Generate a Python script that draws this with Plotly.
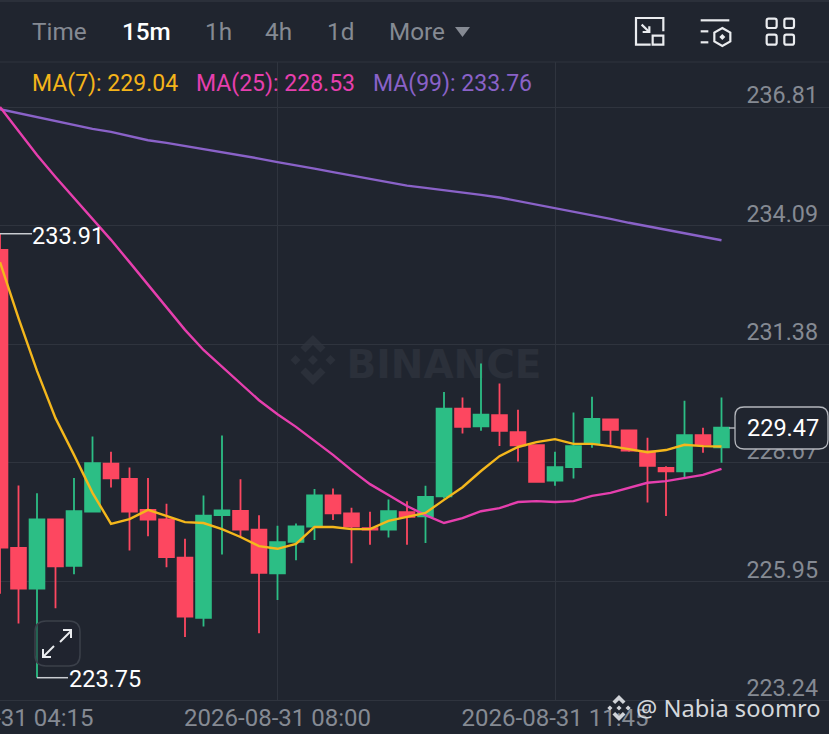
import plotly.graph_objects as go
import pandas as pd

# candles, 15m bars starting 04:15
open_ = [233.54, 226.72, 225.79, 227.37, 226.31, 227.55, 228.65, 228.30, 227.59, 227.37,
         226.50, 225.12, 227.47, 227.57, 227.14, 226.14, 226.86, 227.21, 227.92, 227.51,
         227.17, 227.14, 227.54, 227.44, 227.90, 229.91, 229.50, 229.76, 229.37, 229.07,
         228.26, 228.57, 229.10, 229.66, 229.41, 228.93, 228.55, 228.47, 229.30, 229.02]
high = [233.91, 228.15, 227.97, 227.39, 228.32, 229.27, 228.92, 228.56, 228.32, 227.73,
        226.93, 227.92, 229.29, 228.29, 227.47, 227.23, 227.28, 228.07, 228.08, 227.64,
        227.55, 227.83, 227.79, 228.14, 230.29, 230.16, 230.94, 230.48, 229.88, 229.07,
        228.92, 229.82, 230.18, 229.67, 229.43, 229.24, 228.59, 230.09, 229.47, 230.16]
low = [225.67, 224.99, 223.75, 225.34, 226.12, 227.55, 228.10, 226.66, 226.99, 226.28,
       224.68, 224.92, 226.57, 226.98, 224.77, 225.53, 226.44, 226.90, 227.36, 226.37,
       226.79, 226.96, 226.79, 226.83, 227.85, 229.34, 229.40, 229.05, 228.70, 228.23,
       228.14, 228.31, 229.01, 229.08, 228.92, 227.76, 227.45, 228.34, 228.90, 228.67]
close = [226.73, 225.79, 227.37, 226.30, 227.56, 228.66, 228.31, 227.55, 227.37, 226.51,
         225.15, 227.46, 227.58, 227.14, 226.15, 226.85, 227.21, 227.92, 227.51, 227.21,
         227.14, 227.56, 227.43, 227.89, 229.91, 229.49, 229.77, 229.40, 229.07, 228.23,
         228.57, 229.05, 229.67, 229.42, 228.95, 228.60, 228.47, 229.30, 229.08, 229.47]

ma7 = [233.26, 231.98, 230.77, 229.69, 228.85, 227.98, 227.27, 227.38, 227.59, 227.45,
       227.31, 227.29, 227.15, 226.97, 226.76, 226.70, 226.81, 227.20, 227.20, 227.15,
       227.15, 227.34, 227.43, 227.52, 227.82, 228.11, 228.48, 228.82, 229.03, 229.14,
       229.21, 229.10, 229.10, 229.05, 228.98, 228.91, 228.96, 229.08, 229.05, 229.04]
ma25 = [236.81, 236.26, 235.71, 235.21, 234.73, 234.25, 233.77, 233.26, 232.74, 232.23,
        231.71, 231.25, 230.86, 230.49, 230.10, 229.78, 229.49, 229.17, 228.85, 228.50,
        228.18, 227.93, 227.68, 227.47, 227.29, 227.40, 227.56, 227.63, 227.77, 227.79,
        227.77, 227.79, 227.91, 227.98, 228.09, 228.21, 228.25, 228.32, 228.39, 228.53]
ma99 = [236.76, 236.67, 236.58, 236.49, 236.39, 236.31, 236.24, 236.15, 236.05, 235.99,
        235.92, 235.85, 235.78, 235.71, 235.63, 235.55, 235.48, 235.40, 235.32, 235.24,
        235.16, 235.09, 235.01, 234.96, 234.91, 234.85, 234.80, 234.74, 234.66, 234.58,
        234.50, 234.42, 234.33, 234.25, 234.16, 234.08, 234.01, 233.93, 233.84, 233.76]

y_ticks = [236.81, 234.09, 231.38, 228.67, 225.95, 223.24]
x_ticks = ["2026-08-31 04:15", "2026-08-31 08:00", "2026-08-31 11:45"]
menu = [("Time", 30), ("15m", 120), ("1h", 203), ("4h", 263), ("1d", 325), ("More", 387)]

W, H = 829, 734
BG = "#20252f"
GRID = "#2f343e"
GREY = "#858a93"
RED = "#fd4760"
GREEN = "#2cbe85"
FONT = "Roboto"

start = pd.Timestamp(x_ticks[0])
times = pd.date_range(start, periods=len(open_), freq="15min")
MIN_PER_PX = 15 / 18.5
PRICE_PER_PX = 0.022884


def px_time(x):
    return start + pd.Timedelta(minutes=x * MIN_PER_PX)


def poly(points, closed=False):
    # pixel points -> svg path in paper coords
    parts = [f"{x / W:.5f} {1 - y / H:.5f}" for x, y in points]
    return "M" + " L".join(parts) + (" Z" if closed else "")


def rounded(x0, y0, x1, y1, r):
    a, b, c, d = x0 / W, 1 - y0 / H, x1 / W, 1 - y1 / H
    rx, ry = r / W, r / H
    return (f"M{a + rx:.5f} {b:.5f} L{c - rx:.5f} {b:.5f} Q{c:.5f} {b:.5f} {c:.5f} {b - ry:.5f} "
            f"L{c:.5f} {d + ry:.5f} Q{c:.5f} {d:.5f} {c - rx:.5f} {d:.5f} L{a + rx:.5f} {d:.5f} "
            f"Q{a:.5f} {d:.5f} {a:.5f} {d + ry:.5f} L{a:.5f} {b - ry:.5f} Q{a:.5f} {b:.5f} {a + rx:.5f} {b:.5f} Z")


def logo(cx, cy, r):
    paths = []
    for dx in (-0.7, 0, 0.7):
        s = 0.2
        paths.append(poly([(cx + (dx - s) * r, cy), (cx + dx * r, cy - s * r),
                           (cx + (dx + s) * r, cy), (cx + dx * r, cy + s * r)], True))
    for sign in (-1, 1):
        pts = [(0, 1), (0.5, 0.5), (0.3, 0.3), (0, 0.6), (-0.3, 0.3), (-0.5, 0.5)]
        paths.append(poly([(cx + a * r, cy + sign * b * r) for a, b in pts], True))
    return " ".join(paths)


fig = go.Figure()

fig.add_trace(go.Candlestick(
    x=times, open=open_, high=high, low=low, close=close,
    whiskerwidth=0,
    increasing=dict(line=dict(color=GREEN, width=1.8), fillcolor=GREEN),
    decreasing=dict(line=dict(color=RED, width=1.8), fillcolor=RED),
    showlegend=False,
))

for values, color in [(ma99, "#8a62c8"), (ma25, "#e63fae"), (ma7, "#f4b71c")]:
    fig.add_trace(go.Scatter(x=times, y=values, mode="lines", showlegend=False,
                             line=dict(color=color, width=2.4)))

# price scale labels, as a trace so the price box can sit on top of them
fig.add_trace(go.Scatter(
    x=[px_time(818)] * len(y_ticks), y=[v - 2 * PRICE_PER_PX for v in y_ticks],
    text=[f"{v:.2f}" for v in y_ticks],
    mode="text", textposition="top left", showlegend=False,
    textfont=dict(family=FONT, size=23.3, color=GREY),
))

shapes = []


def add_path(path, color=None, fill=None, width=2.2, layer="above", **kw):
    shapes.append(dict(type="path", path=path, xref="paper", yref="paper", layer=layer,
                       line=dict(color=color or "rgba(0,0,0,0)", width=width if color else 0),
                       fillcolor=fill or "rgba(0,0,0,0)", **kw))


# top band and toolbar divider
shapes.append(dict(type="rect", xref="paper", yref="paper", x0=0, x1=1, y0=1 - 2 / H, y1=1,
                   fillcolor="#2b303a", line=dict(width=0)))
shapes.append(dict(type="line", xref="paper", yref="paper", x0=0, x1=1, y0=1 - 62 / H, y1=1 - 62 / H,
                   line=dict(color=GRID, width=1)))

# watermark under the candles
add_path(logo(313, 360, 25), fill="#2b303a", layer="below")

# toolbar triangle
add_path(poly([(455, 27), (470, 27), (462.5, 37)], True), fill=GREY)


def ico(z):
    return [(620 + x / 3, 8 + y / 3) for x, y in z]


WHITE = "#eaecef"
add_path(poly(ico([(92, 110), (48, 110), (48, 30), (130, 30), (130, 70)])), WHITE)
add_path(poly(ico([(98, 83), (130, 83), (130, 110), (98, 110)]), True), WHITE)
add_path(poly(ico([(65, 50), (88, 72)])), WHITE)
add_path(poly(ico([(88, 55), (88, 72), (68, 72)])), WHITE)
add_path(poly(ico([(242, 37), (328, 37)])), WHITE)
add_path(poly(ico([(242, 70), (265, 70)])), WHITE)
add_path(poly(ico([(242, 103), (265, 103)])), WHITE)
add_path(poly(ico([(307, 60), (331, 74), (331, 100), (307, 114), (283, 100), (283, 74)]), True), WHITE)
add_path(poly(ico([(307, 78), (316, 87), (307, 96), (298, 87)]), True), fill=WHITE)
for x0, y0, x1, y1 in [(440, 32, 470, 60), (493, 32, 522, 60), (440, 80, 470, 110), (493, 80, 522, 110)]:
    add_path(rounded(620 + x0 / 3, 8 + y0 / 3, 620 + x1 / 3, 8 + y1 / 3, 2), WHITE)

# expand button
add_path(rounded(35, 621, 80, 666, 11), "#3b404a", "rgba(32,37,47,0.55)", 1.5)
add_path(poly([(60, 642), (71, 631)]), WHITE, width=2)
add_path(poly([(63, 630), (71, 630), (71, 638)]), WHITE, width=2)
add_path(poly([(54, 646), (43, 657)]), WHITE, width=2)
add_path(poly([(43, 649), (43, 657), (51, 657)]), WHITE, width=2)

# high / low leaders
shapes.append(dict(type="line", xref="paper", yref="y", x0=0, x1=32 / W, y0=high[0], y1=high[0],
                   line=dict(color="#c9ccd1", width=1.5)))
shapes.append(dict(type="line", xref="paper", yref="y", x0=37 / W, x1=68 / W, y0=low[2], y1=low[2],
                   line=dict(color="#c9ccd1", width=1.5)))

# current price box
add_path(poly([(729, 428), (735, 428)]), "#aeb2b8", width=1.5)
add_path(rounded(735, 407, 828, 449, 9), "#b4b7bd", BG, 1.3)

# bottom logo
add_path(logo(619, 708, 13), fill="#d0d3d8")

annotations = []


def note(text, x, y, color, size=23.5, anchor="left", yref="paper", weight=None, family=FONT, yshift=0):
    annotations.append(dict(text=text, x=x / W, y=y, xref="paper", yref=yref, showarrow=False,
                            xanchor=anchor, yanchor="middle", yshift=yshift,
                            font=dict(family=family, size=size, color=color, weight=weight)))


for label, x in menu:
    active = label == "15m"
    note(label, x, 1 - 32 / H, "#ffffff" if active else GREY, 24.3, weight=500 if active else None)
note(f"MA(7): {ma7[-1]:.2f}", 30, 1 - 83 / H, "#f4b41a", 23)
note(f"MA(25): {ma25[-1]:.2f}", 194, 1 - 83 / H, "#e63fae", 23)
note(f"MA(99): {ma99[-1]:.2f}", 371, 1 - 83 / H, "#8a62c8", 23)
note(f"{high[0]:.2f}", 30, high[0], "#ffffff", yref="y", yshift=-2)
note(f"{low[2]:.2f}", 67, low[2], "#ffffff", yref="y", yshift=-1)
note(f"{close[-1]:.2f}", 745, close[-1], "#ffffff", yref="y")
note("@ Nabia soomro", 634, 1 - 708 / H, "#d4d7db", 23.7, family="Noto Sans")

shapes.append(dict(type="rect", xref="paper", yref="paper", layer="below",
                   x0=345 / W, x1=543 / W, y0=1 - 376 / H, y1=1 - 346 / H,
                   line=dict(width=0), fillcolor="rgba(0,0,0,0)",
                   label=dict(text="BINANCE", textposition="middle center",
                              font=dict(family="DejaVu Sans", size=39, color="#2b303a", weight="bold"))))

fig.update_layout(
    width=W, height=H,
    margin=dict(l=0, r=0, t=0, b=0, autoexpand=False),
    paper_bgcolor=BG, plot_bgcolor=BG,
    showlegend=False,
    boxgap=0.2,
    boxgroupgap=0,
    shapes=shapes,
    annotations=annotations,
    xaxis=dict(
        domain=[0, 1],
        range=[start, px_time(W)],
        type="date",
        rangeslider=dict(visible=False),
        tickmode="array",
        tickvals=x_ticks,
        ticktext=x_ticks,
        ticklabeloverflow="allow",
        ticklabelstandoff=-4,
        tickfont=dict(family=FONT, size=24, color=GREY),
        ticks="",
        gridcolor=GRID, gridwidth=1,
        showline=True, linecolor=GRID, linewidth=1,
        zeroline=False,
    ),
    yaxis=dict(
        domain=[1 - 700 / H, 1 - 62 / H],
        range=[223.24, 236.81 + 45 * PRICE_PER_PX],
        tickmode="array",
        tickvals=y_ticks,
        showticklabels=False,
        gridcolor=GRID, gridwidth=1,
        zeroline=False,
    ),
)

fig.write_html("out.html", config=dict(displayModeBar=False),
               post_script="document.body.style.margin='0';document.body.style.height='734px';"
                           "document.body.style.overflow='hidden';"
                           "document.documentElement.style.overflow='hidden';")
